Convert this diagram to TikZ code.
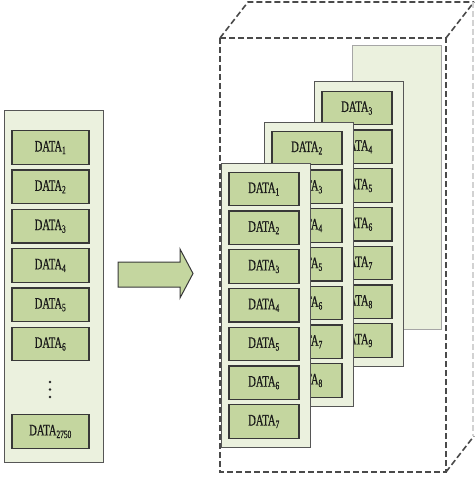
\documentclass[tikz,border=0pt]{standalone}
\usepackage{fontspec}
\setmainfont{Liberation Serif}
\newfontfamily\datafont[FakeStretch=0.66,FakeBold=0.6]{Liberation Serif}
\definecolor{boxgreen}{HTML}{C4D69F}
\definecolor{panelgreen}{HTML}{EBF1DE}
\definecolor{edgegray}{HTML}{383838}
\definecolor{cubegray}{HTML}{4A4A4A}

\begin{document}
\begin{tikzpicture}[x=1pt,y=-1pt,
  databox/.style={draw=edgegray,line width=1.3pt,fill=boxgreen,minimum height=33.5pt,
    inner sep=0pt,text=black!90,font=\datafont\fontsize{16}{16}\selectfont},
  panel/.style={draw=edgegray!85,line width=1pt,fill=panelgreen},
  cube/.style={draw=cubegray,line width=1.6pt,dash pattern=on 6pt off 3pt}]
\useasboundingbox (0,0) rectangle (474,492);
% left: all the data in one block
\draw[panel] (4,111) rectangle (103,462);
\foreach \i in {1,...,6}
  \node[databox,minimum width=77pt] (left\i) at (50.5,{108.2+39.3*\i}) {DATA\textsubscript{\i}};
\foreach \y in {382,389.5,397}
  \fill[black!85] (50,\y) circle (1.3);
\node[databox,minimum width=77pt] (left2750) at (50.5,431.5) {DATA\textsubscript{2750}};
% arrow
\draw[draw=edgegray,line width=1pt,fill=boxgreen] (118,262) -- (180,262) -- (180,249)
  -- (193,273.5) -- (180,298) -- (180,287) -- (118,287) -- cycle;
% right: the stacked windows
\draw[draw=gray!70,line width=0.8pt,fill=panelgreen] (352,45) rectangle (441,329);
\foreach \px/\py/\n in {314/82/3, 264/122/2, 221/163/1} {
  \draw[panel] (\px,\py) rectangle ++(89.5,284.5);
  \foreach \k in {0,...,6} {
    \pgfmathtruncatemacro\num{\n+\k}
    \node[databox,minimum width=70pt] (s\n-\num) at ({\px+43},{\py+26+38.75*\k}) {DATA\textsubscript{\num}};
  }
}
% dashed box round the windows
\draw[cube] (220,38) rectangle (446,472);
\draw[cube] (220,38) -- (248,2) -- (474,2);
\draw[cube] (446,38) -- (474,2);
\draw[cube] (446,472) -- (474,436);
\draw[cube,draw=cubegray!25] (473,2) -- (473,436);
\end{tikzpicture}
\end{document}
